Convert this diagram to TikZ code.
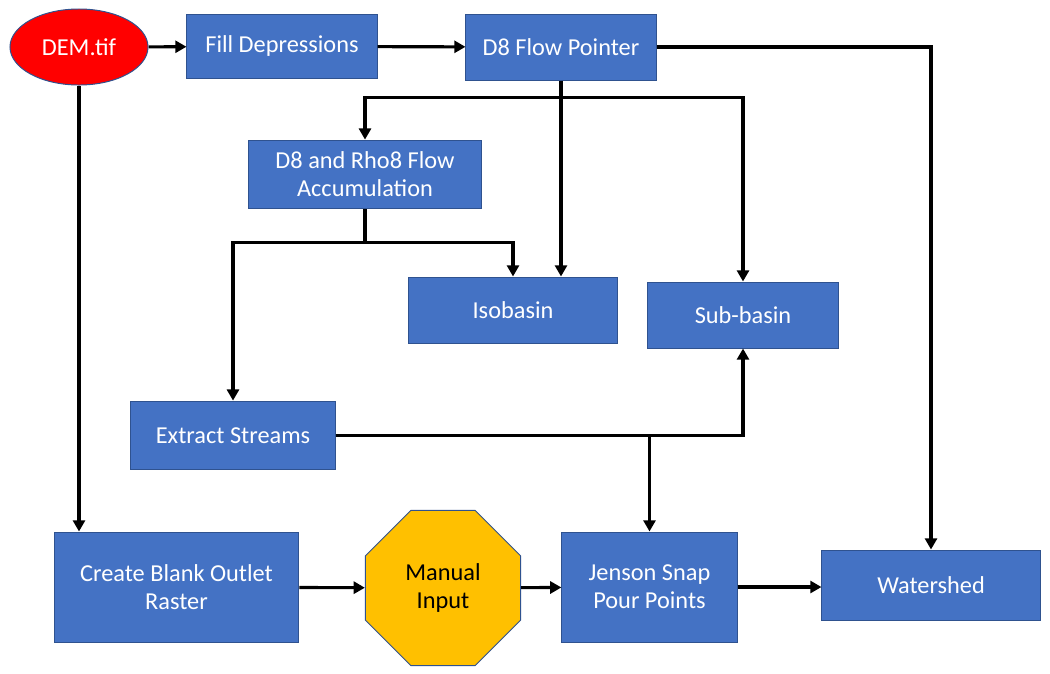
\documentclass[tikz,border=0pt]{standalone}
\usepackage{fontspec}
\setmainfont{Carlito}
\usepackage{tikz}
\usetikzlibrary{shapes.geometric, arrows.meta, positioning, calc}
\definecolor{boxBlue}{HTML}{4472C4}
\definecolor{boxEdge}{HTML}{2F528F}
\definecolor{inRed}{HTML}{FF0000}
\definecolor{inYellow}{HTML}{FFC000}

\begin{document}
\begin{tikzpicture}[
    x=0.025cm, y=-0.025cm,
    font=\fontsize{17.3pt}{20pt}\selectfont,
    task/.style={draw=boxEdge, line width=0.7pt, fill=boxBlue,
                 text=white, align=center, inner sep=2pt},
    input/.style={ellipse, draw=boxEdge, line width=0.7pt, fill=inRed,
                  text=white, minimum width=3.45cm, minimum height=1.9cm},
    manual/.style={regular polygon, regular polygon sides=8,
                   draw=boxEdge, line width=0.7pt,
                   fill=inYellow, text=black, align=center,
                   minimum size=4.2cm},
    arrow/.style={-{Triangle[length=2.8mm, width=3mm]}, line width=2.2pt},
    link/.style={line width=2.2pt},
]
\useasboundingbox (0,0) rectangle (1050,673);

% Top row
\node[input] (dem) at (79,47) {DEM.tif};
\node[task, minimum width=4.75cm, minimum height=1.62cm]
    (fill) at (282,46.5) {Fill Depressions};
\node[task, minimum width=4.75cm, minimum height=1.65cm]
    (ptr) at (561,47) {D8 Flow Pointer};

% Middle
\node[task, minimum width=5.8cm, minimum height=1.72cm]
    (accum) at (365,174.5) {D8 and Rho8 Flow\\Accumulation};
\node[task, minimum width=5.2cm, minimum height=1.65cm]
    (iso) at (513,310) {Isobasin};
\node[task, minimum width=4.75cm, minimum height=1.65cm]
    (sub) at (743,315) {Sub-basin};
\node[task, minimum width=5.1cm, minimum height=1.72cm]
    (streams) at (233,435.5) {Extract Streams};

% Bottom row
\node[task, minimum width=6.12cm, minimum height=2.75cm]
    (blank) at (176.5,587) {Create Blank Outlet\\Raster};
\node[manual] (man) at (443,588) {Manual\\Input};
\node[task, minimum width=4.38cm, minimum height=2.75cm]
    (snap) at (649.5,587) {Jenson Snap\\Pour Points};
\node[task, minimum width=5.45cm, minimum height=1.75cm]
    (shed) at (931,585) {Watershed};

% Branch points
\coordinate (split) at ($(ptr.south)+(0,17)$);
\coordinate (fork) at ($(accum.south)+(0,33)$);
\coordinate (join) at (streams.east -| snap.north);

% Arrows
\draw[arrow] (dem) -- (fill);
\draw[arrow] (fill) -- (ptr);
\draw[arrow] (ptr.east) -| (shed.north);
\draw[arrow] (dem.south) -- (dem.south |- blank.north);
\draw[arrow] (ptr.south) -- (ptr.south |- iso.north);
\draw[arrow] (split) -| (accum.north);
\draw[arrow] (split) -| (sub.north);
\draw[link] (accum.south) -- (fork);
\draw[arrow] (fork) -| (streams.north);
\draw[arrow] (fork) -| (iso.north);
\draw[arrow] (streams.east) -| (sub.south);
\draw[arrow] (join) -- (snap.north);
\draw[arrow] (blank) -- (man);
\draw[arrow] (man) -- (snap);
\draw[arrow] (snap) -- (shed.west |- snap.east);
\end{tikzpicture}
\end{document}
